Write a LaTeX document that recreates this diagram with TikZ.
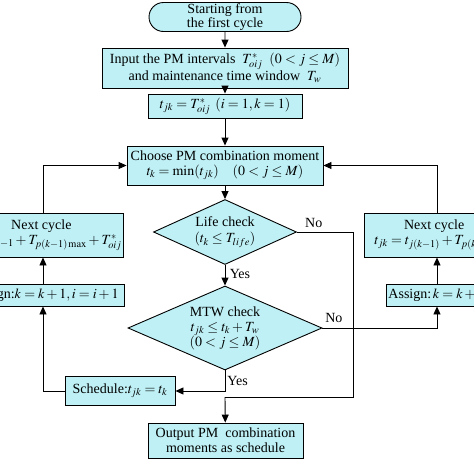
\documentclass[tikz,border=0pt]{standalone}
\usepackage{mathptmx}
\usepackage{fontspec}
\setmainfont{Liberation Serif}
\usetikzlibrary{shapes.geometric,shapes.misc,arrows.meta}
\definecolor{boxcyan}{RGB}{190,240,245}
\tikzset{
  stepbox/.style={draw,fill=boxcyan,line width=0.9pt,align=center,inner sep=1pt},
  startbox/.style={stepbox,rounded rectangle},
  checkbox/.style={stepbox,diamond,inner sep=0pt},
  arr/.style={line width=0.9pt,-{Triangle[length=8pt,width=7pt]}},
  ln/.style={line width=0.9pt}
}
\begin{document}
\begin{tikzpicture}[x=1pt,y=-1pt,font=\fontsize{14}{15}\selectfont]
        \useasboundingbox (0,0) rectangle (474,474);
        \node[startbox,minimum width=154pt,minimum height=29pt] (start) at (225,17) {Starting from\\[-1.5pt]the first cycle};
        \node[stepbox,minimum width=246pt,minimum height=40pt] (input) at (225,68) {Input the PM intervals \ $T^{*}_{oij}$ \ $(0<j\le M)$\\and maintenance time window \ $T_{w}$};
        \node[stepbox,minimum width=154pt,minimum height=24pt] (init) at (225,106) {$t_{jk}=T^{*}_{oij}\ \,(i=1,k=1)$};
        \node[stepbox,minimum width=196pt,minimum height=39pt] (choose) at (225,165.5) {Choose PM combination moment\\$t_{k}=\min(t_{jk})\quad(0<j\le M)$};
        \node[checkbox,aspect=2.2,minimum width=143pt,minimum height=65pt] (life) at (225,232) {Life check\\[1pt]$(t_{k}\le T_{life})$};
        \node[checkbox,aspect=2.3,minimum width=194pt,minimum height=84pt] (mtw) at (225,328) {MTW check\\$t_{jk}\le t_{k}+T_{w}$\\$(0<j\le M)$};
        \node[stepbox,minimum width=155pt,minimum height=35pt] (output) at (225.5,440.5) {Output PM\ \ combination\\moments as schedule};
        \node[stepbox,minimum width=110pt,minimum height=29pt] (sched) at (120,391) {Schedule:$t_{jk}=t_{k}$};

        \node[stepbox,anchor=east,minimum height=44pt,inner xsep=2pt] (nextL) at (124,235) {Next cycle\\$t_{jk}=t_{k-1}+T_{p(k-1)\max}+T^{*}_{oij}$};
        \node[stepbox,anchor=east,minimum height=22pt,inner xsep=6pt] (assignL) at (125,295) {Assign:$k=k+1,i=i+1$};
        \node[stepbox,anchor=west,minimum height=44pt,inner xsep=10pt] (nextR) at (364,235) {Next cycle\\$t_{jk}=t_{j(k-1)}+T_{p(k-1)}$};
        \node[stepbox,anchor=west,minimum height=22pt,inner xsep=2pt] (assignR) at (386,295) {Assign:$\,k=k+1,i=i+1$};

        \coordinate (lx) at (43,0);
        \coordinate (rx) at (437,0);
        \coordinate (nox) at (353,0);
        \coordinate (join) at (225,397);
        \coordinate (yesturn) at (225,391);

        \draw[arr] (start) -- (input);
        \draw[arr] (input) -- (init);
        \draw[arr] (init) -- (choose);
        \draw[arr] (choose) -- (life);
        \draw[arr] (life) -- node[right,pos=0.45,xshift=1pt] {Yes} (mtw);
        \draw[ln] (life.east) -- node[above,pos=0.3,yshift=1pt] {No} (life.east -| nox) -- (join -| nox) -- (join);
        \draw[arr] (join) -- (output);

        \draw[arr] (mtw.south) -- (yesturn) node[above right,inner sep=2pt,yshift=3pt] {Yes} -- (sched.east);
        \draw[arr] (mtw.east) -- node[above,pos=0.1,yshift=2pt] {No} (mtw.east -| rx) -- (assignR.south -| rx);
        \draw[arr] (assignR.north -| rx) -- (nextR.south -| rx);
        \draw[arr] (nextR.north -| rx) -- (choose.east -| rx) -- (choose.east);

        \draw[arr] (sched.west) -- (sched.west -| lx) -- (assignL.south -| lx);
        \draw[arr] (assignL.north -| lx) -- (nextL.south -| lx);
        \draw[arr] (nextL.north -| lx) -- (choose.west -| lx) -- (choose.west);
\end{tikzpicture}
\end{document}
